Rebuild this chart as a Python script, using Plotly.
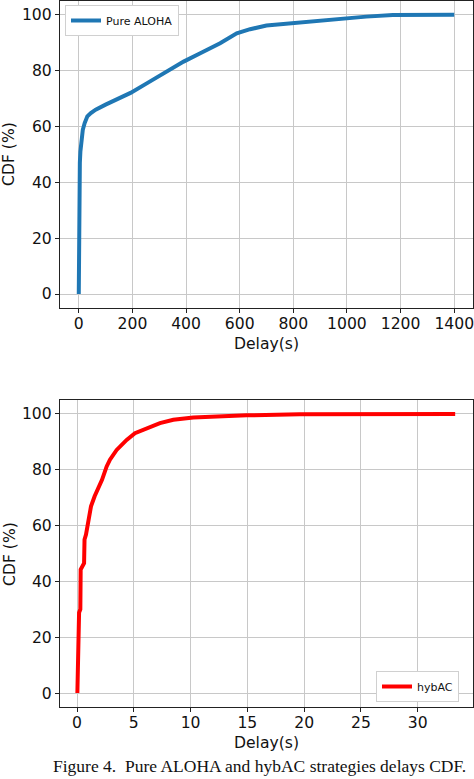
import plotly.graph_objects as go

W, H = 474, 779

# ---- data ----
aloha_delay = [0, 1, 2, 4, 6, 10, 15, 22, 32, 45, 63, 100, 150, 193, 255, 329, 391,
               453, 527, 589, 639, 700, 787, 886, 985, 1072, 1171, 1250, 1400]
aloha_cdf = [0, 25, 40, 47, 51, 55.2, 58.8, 61.2, 63.6, 64.8, 66, 67.8, 70, 72, 75.5,
             79.6, 83.2, 86.2, 89.8, 93.3, 94.8, 96.1, 96.9, 97.7, 98.5, 99.3, 99.9, 100, 100]

hyb_delay = [0.03, 0.08, 0.12, 0.18, 0.29, 0.32, 0.62, 0.66, 0.79, 0.94, 1.09, 1.23,
             1.55, 1.9, 2.2, 2.61, 2.9, 3.49, 4.37, 5.1, 6.13, 7.3, 8.48, 10.24, 14.94,
             19.6, 33.3]
hyb_cdf = [0, 12, 13, 28.8, 30, 44.3, 46.5, 55, 56.8, 61, 63.3, 66.9, 70.5, 73.5, 76.4,
           81.2, 83.6, 87.1, 90.7, 93.1, 94.9, 96.7, 97.9, 98.7, 99.5, 99.9, 100]

top_xticks = [0, 200, 400, 600, 800, 1000, 1200, 1400]
bot_xticks = [0, 5, 10, 15, 20, 25, 30]
yticks = [0, 20, 40, 60, 80, 100]

FONT = "DejaVu Sans"
TICK_SIZE = 15.6


def px_x(p):
    return p / W


def px_y(p):
    return 1 - p / H


fig = go.Figure()
fig.add_trace(go.Scatter(x=aloha_delay, y=aloha_cdf, mode="lines", name="Pure ALOHA",
                         line=dict(color="#1f77b4", width=4), xaxis="x", yaxis="y",
                         legend="legend"))
fig.add_trace(go.Scatter(x=hyb_delay, y=hyb_cdf, mode="lines", name="hybAC",
                         line=dict(color="#ff0000", width=4), xaxis="x2", yaxis="y2",
                         legend="legend2"))

axis_common = dict(showline=True, linecolor="#222", linewidth=1.3, mirror=True,
                   showgrid=True, gridcolor="#c8c8c8", gridwidth=1.2, zeroline=False,
                   ticks="outside", ticklen=4, tickcolor="#222", tickwidth=1.2,
                   automargin=False, ticklabeloverflow="allow",
                   tickfont=dict(family=FONT, size=TICK_SIZE, color="#111"))
xaxis_extra = dict(ticklabelstandoff=-3)

fig.update_layout(
    width=W, height=H, margin=dict(l=0, r=0, t=0, b=0, autoexpand=False),
    paper_bgcolor="white", plot_bgcolor="white", showlegend=True,
    xaxis=dict(domain=[px_x(60), px_x(473)], range=[-70, 1470], tickvals=top_xticks,
               anchor="y", **axis_common, **xaxis_extra),
    yaxis=dict(domain=[px_y(308), px_y(0.7)], range=[-5, 105], tickvals=yticks,
               anchor="x", **axis_common),
    xaxis2=dict(domain=[px_x(60), px_x(473)], range=[-1.5, 34.87], tickvals=bot_xticks,
                anchor="y2", **axis_common, **xaxis_extra),
    yaxis2=dict(domain=[px_y(707), px_y(400)], range=[-5, 105], tickvals=yticks,
                anchor="x2", **axis_common),
    legend=dict(x=px_x(65), y=px_y(5), xanchor="left", yanchor="top",
                bgcolor="white", bordercolor="#d0d0d0", borderwidth=1,
                font=dict(family=FONT, size=11, color="#111")),
    legend2=dict(x=px_x(459), y=px_y(702), xanchor="right", yanchor="bottom",
                 bgcolor="white", bordercolor="#d0d0d0", borderwidth=1,
                 font=dict(family=FONT, size=11, color="#111")),
)

ann_font = dict(family=FONT, size=TICK_SIZE, color="#111")
annotations = [
    dict(text="Delay(s)", x=px_x(266), y=px_y(343.5), xref="paper", yref="paper",
         showarrow=False, xanchor="center", yanchor="middle", font=ann_font),
    dict(text="Delay(s)", x=px_x(266), y=px_y(743), xref="paper", yref="paper",
         showarrow=False, xanchor="center", yanchor="middle", font=ann_font),
    dict(text="CDF (%)", x=px_x(9.5), y=px_y(154.5), xref="paper", yref="paper",
         showarrow=False, xanchor="center", yanchor="middle", textangle=-90, font=ann_font),
    dict(text="CDF (%)", x=px_x(9.5), y=px_y(554.5), xref="paper", yref="paper",
         showarrow=False, xanchor="center", yanchor="middle", textangle=-90, font=ann_font),
    dict(text="Figure 4.&nbsp;&nbsp;Pure ALOHA and hybAC strategies delays CDF.",
         x=px_x(259.5), y=px_y(766), xref="paper", yref="paper", showarrow=False,
         xanchor="center", yanchor="middle",
         font=dict(family="Liberation Serif", size=17.5, color="#111")),
]
fig.update_layout(annotations=annotations)

fig.write_html("out.html", config={"displayModeBar": False},
               post_script="document.body.style.margin='0';document.body.style.overflow='hidden';")
